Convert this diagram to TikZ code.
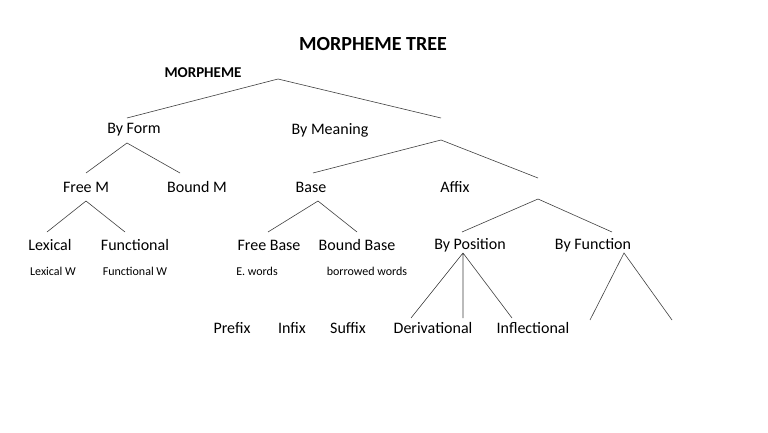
\documentclass[tikz,border=0pt]{standalone}
\usepackage{fontspec}
\setmainfont{Carlito}
\begin{document}
\begin{tikzpicture}[x=1pt,y=-1pt,
  lbl/.style={inner sep=0pt,font=\fontsize{16}{18}\selectfont},
  sml/.style={inner sep=0pt,font=\fontsize{12}{14}\selectfont},
  br/.style={draw=black!75,line width=0.6pt}]
\useasboundingbox[fill=white] (0,0) rectangle (768,433);
\node[inner sep=0pt,font=\fontsize{20}{22}\selectfont\bfseries] (title) at (373,44) {MORPHEME TREE};
\node[inner sep=0pt,font=\fontsize{15}{17}\selectfont\bfseries] (morph) at (203,73) {MORPHEME};
\node[lbl] (form) at (134,130) {By Form};
\node[lbl] (mean) at (330,130) {By Meaning};
\node[lbl] (free) at (86,187) {Free M};
\node[lbl] (bound) at (197,187) {Bound M};
\node[lbl] (base) at (311,187) {Base};
\node[lbl] (affix) at (455,187) {Affix};
\node[lbl] (lex) at (50,245) {Lexical};
\node[lbl] (fun) at (135,245) {Functional};
\node[lbl] (fb) at (269,245) {Free Base};
\node[lbl] (bb) at (357,245) {Bound Base};
\node[lbl] (bp) at (470,245) {By Position};
\node[lbl] (bf) at (593,245) {By Function};
\node[sml] (lw) at (53,271) {Lexical W};
\node[sml] (fw) at (135,271) {Functional W};
\node[sml] (ew) at (257,271) {E. words};
\node[sml] (bw) at (367,271) {borrowed words};
\node[lbl] (pre) at (232,328) {Prefix};
\node[lbl] (inf) at (292,328) {Infix};
\node[lbl] (suf) at (348,328) {Suffix};
\node[lbl] (der) at (433,328) {Derivational};
\node[lbl] (infl) at (533,328) {Inflectional};
\coordinate (m0) at (278,79);
\coordinate (m1) at (127,118);
\coordinate (m2) at (441,118);
\coordinate (f0) at (127,143);
\coordinate (f1) at (86,173);
\coordinate (f2) at (180,173);
\coordinate (b0) at (441,140);
\coordinate (b1) at (313,173);
\coordinate (b2) at (538,178);
\coordinate (fm0) at (86,201);
\coordinate (fm1) at (47,232);
\coordinate (fm2) at (125,232);
\coordinate (ba0) at (318,201);
\coordinate (ba1) at (268,232);
\coordinate (ba2) at (357,232);
\coordinate (a0) at (538,199);
\coordinate (a1) at (462,232);
\coordinate (a2) at (612,232);
\coordinate (p0) at (463,253);
\coordinate (p1) at (411,318);
\coordinate (p2) at (463,318);
\coordinate (p3) at (512,318);
\coordinate (q0) at (624,253);
\coordinate (q1) at (590,320);
\coordinate (q2) at (672,320);
\draw[br] (m1) -- (m0) -- (m2);
\draw[br] (f1) -- (f0) -- (f2);
\draw[br] (b1) -- (b0) -- (b2);
\draw[br] (fm1) -- (fm0) -- (fm2);
\draw[br] (ba1) -- (ba0) -- (ba2);
\draw[br] (a1) -- (a0) -- (a2);
\draw[br] (p0) -- (p1) (p0) -- (p2) (p0) -- (p3);
\draw[br] (q1) -- (q0) -- (q2);
\end{tikzpicture}
\end{document}
